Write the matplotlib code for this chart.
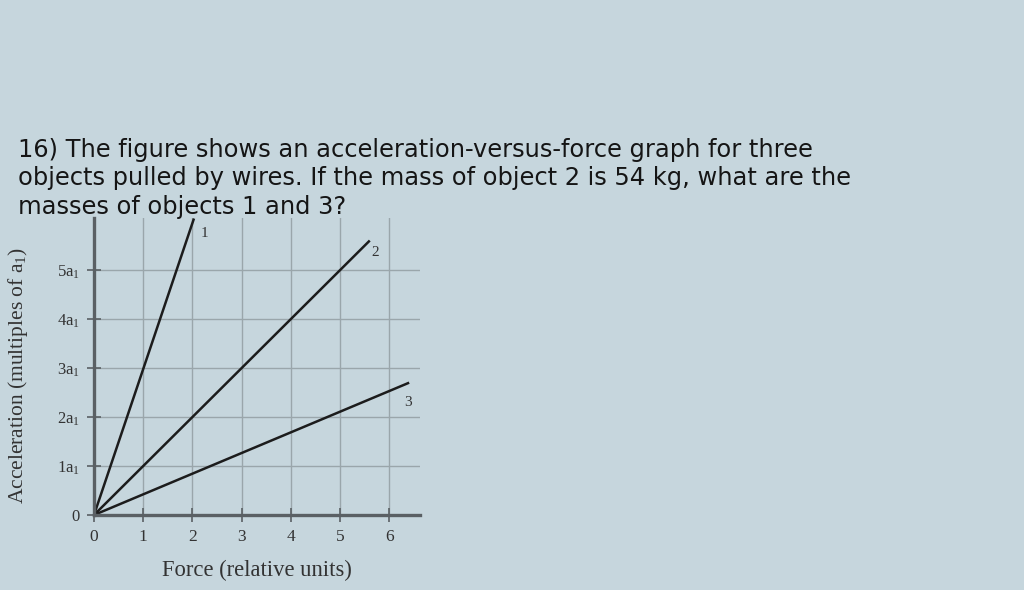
import matplotlib.pyplot as plt

# question text
question_lines = [
    "16) The figure shows an acceleration-versus-force graph for three",
    "objects pulled by wires. If the mass of object 2 is 54 kg, what are the",
    "masses of objects 1 and 3?",
]

# graph data (lines start at the origin)
objects = ["1", "2", "3"]
force_end = [2.03, 5.6, 6.4]
accel_end = [6.05, 5.6, 2.7]
label_x = [2.25, 5.72, 6.38]
label_y = [5.75, 5.35, 2.3]

x_ticks = [0, 1, 2, 3, 4, 5, 6]
y_ticks = [0, 1, 2, 3, 4, 5]
y_tick_labels = ["0", "1a$_1$", "2a$_1$", "3a$_1$", "4a$_1$", "5a$_1$"]

bg = "#c6d6dd"
ink = "#1c1c1c"
serif = "Liberation Serif"

plt.rcParams["mathtext.fontset"] = "custom"
plt.rcParams["mathtext.rm"] = serif
plt.rcParams["mathtext.it"] = serif

fig = plt.figure(figsize=(10.24, 5.9), dpi=100, facecolor=bg)

ax = fig.add_axes([94 / 1024, 1 - 515 / 590, (420 - 94) / 1024, (515 - 218) / 590])
ax.set_facecolor(bg)
ax.set_xlim(0, 6.62)
ax.set_ylim(0, 6.06)

for name, fx, ay, lx, ly in zip(objects, force_end, accel_end, label_x, label_y):
    ax.plot([0, fx], [0, ay], color=ink, lw=1.8, solid_capstyle="butt", clip_on=False)
    ax.text(lx, ly, name, fontsize=11, family=serif, color="#333333",
            ha="center", va="center")

ax.set_xticks(x_ticks)
ax.set_yticks(y_ticks)
ax.set_yticklabels(y_tick_labels)
ax.grid(True, color="#9aa6ab", lw=1.0)
ax.set_axisbelow(True)

for side in ["top", "right"]:
    ax.spines[side].set_visible(False)
for side in ["left", "bottom"]:
    ax.spines[side].set_color("#5a6064")
    ax.spines[side].set_linewidth(2.4)

ax.tick_params(direction="inout", length=10, width=1.2, color="#5a6064",
               labelcolor="#333333")
ax.tick_params(axis="x", labelsize=12.5, pad=5)
ax.tick_params(axis="y", labelsize=12, pad=5)
for lab in ax.get_xticklabels() + ax.get_yticklabels():
    lab.set_family(serif)

ax.set_xlabel("Force (relative units)", family=serif, fontsize=16.3,
              color="#333333", labelpad=11)
ax.set_ylabel("Acceleration (multiples of a$_1$)", family=serif,
              fontsize=15.5, color="#333333")
ax.yaxis.set_label_coords(-0.195, 0.47)

# question text above the graph
for i, line in enumerate(question_lines):
    fig.text(18 / 1024, 1 - (157 + 28.5 * i) / 590, line, fontsize=17.4,
             family="DejaVu Sans", color="#151515",
             va="baseline", ha="left")

fig.savefig("out.png", dpi=100, facecolor=bg)
